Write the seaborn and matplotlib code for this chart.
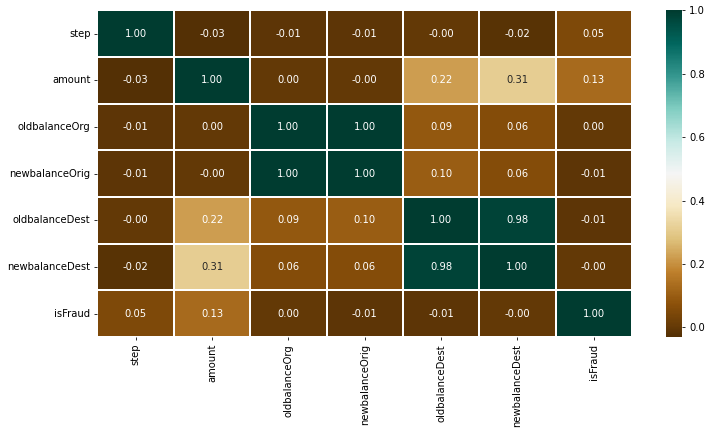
import numpy as np
import pandas as pd
import seaborn as sns
import matplotlib.pyplot as plt

labels = ['step', 'amount', 'oldbalanceOrg', 'newbalanceOrig',
          'oldbalanceDest', 'newbalanceDest', 'isFraud']

step = [1.00, -0.03, -0.01, -0.01, -0.00, -0.02, 0.05]
amount = [-0.03, 1.00, 0.00, -0.00, 0.22, 0.31, 0.13]
oldbalance_org = [-0.01, 0.00, 1.00, 1.00, 0.09, 0.06, 0.00]
newbalance_orig = [-0.01, -0.00, 1.00, 1.00, 0.10, 0.06, -0.01]
oldbalance_dest = [-0.00, 0.22, 0.09, 0.10, 1.00, 0.98, -0.01]
newbalance_dest = [-0.02, 0.31, 0.06, 0.06, 0.98, 1.00, -0.00]
is_fraud = [0.05, 0.13, 0.00, -0.01, -0.01, -0.00, 1.00]

corr = pd.DataFrame([step, amount, oldbalance_org, newbalance_orig,
                     oldbalance_dest, newbalance_dest, is_fraud],
                    index=labels, columns=labels)

# reference looks like a 72 dpi notebook figure, so sizes are scaled to 100 dpi
fs = 7.2

fig, ax = plt.subplots(figsize=(7.12, 4.34), dpi=100)
sns.heatmap(corr, annot=True, fmt='.2f', cmap='BrBG', linewidths=1.4, ax=ax,
            annot_kws={'size': fs})
ax.tick_params(labelsize=fs, length=2.5, width=0.58, pad=2.5)
plt.setp(ax.get_yticklabels(), rotation=0)
plt.setp(ax.get_xticklabels(), rotation=90)

cbar = ax.collections[0].colorbar
cbar.ax.tick_params(labelsize=fs, length=2.5, width=0.58, pad=2.5)
cbar.set_ticks([0.0, 0.2, 0.4, 0.6, 0.8, 1.0])

ax.set_position([0.1369, 0.2235, 0.7507, 0.7525])
cbar.ax.set_position([0.9354, 0.2235, 0.0239, 0.7525])
fig.savefig('out.png', dpi=100)
